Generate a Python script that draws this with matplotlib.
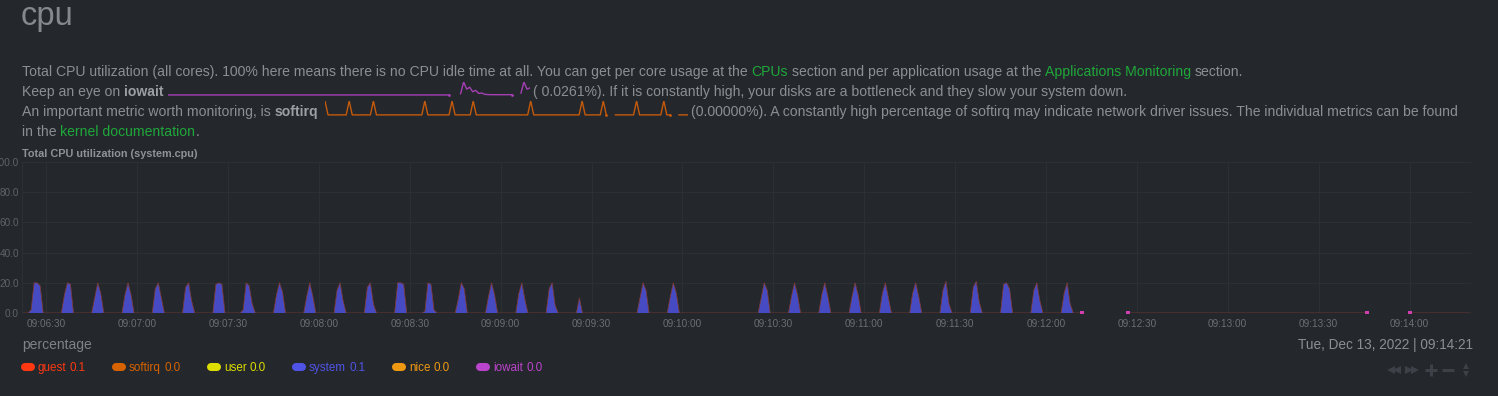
import numpy as np
import matplotlib
matplotlib.use("Agg")
import matplotlib.pyplot as plt

W, H = 1498, 396
BG = "#24272c"
TXT = "#8b8e92"
BOLD_TXT = "#9c9fa3"
GREEN = "#1fa83a"
GRID = "#2c3035"

plt.rcParams['font.family'] = ['Liberation Sans', 'DejaVu Sans']

# time axis in seconds after 09:06:00
tick_secs = [30, 60, 90, 120, 150, 180, 210, 240, 270, 300, 330, 360, 390, 420, 450, 480]
tick_labels = ["09:06:30", "09:07:00", "09:07:30", "09:08:00", "09:08:30", "09:09:00",
               "09:09:30", "09:10:00", "09:10:30", "09:11:00", "09:11:30", "09:12:00",
               "09:12:30", "09:13:00", "09:13:30", "09:14:00"]
y_ticks = [0, 20, 40, 60, 80, 100]
y_labels = ["0.0", "20.0", "40.0", "60.0", "80.0", "100.0"]
t_first, t_last = 22, 500
segments = [(22, 372), (387, 466), (480, 500)]

# system % spikes (centre second, values at centre-2 .. centre+2)
spike_secs = [27, 37, 47, 57, 67, 77, 87, 97, 107, 117, 127, 137, 147, 157, 167, 177,
              187, 197, 206, 227, 237, 267, 277, 287, 297, 307, 317, 327, 337, 347, 357, 367]
spike_shapes = [
    [2, 20, 20, 18, 0], [0, 12, 20, 19, 0], [0, 10, 20, 13, 0], [0, 12, 20, 12, 0],
    [0, 16, 20, 10, 0], [0, 17, 20, 8, 0], [0, 19, 20, 19, 0], [2, 20, 18, 6, 0],
    [0, 12, 20, 14, 0], [0, 11, 20, 11, 0], [0, 15, 20, 8, 0], [0, 17, 20, 6, 0],
    [0, 20, 20, 19, 0], [1, 20, 19, 2, 0], [0, 9, 20, 16, 0], [0, 11, 20, 12, 0],
    [0, 13, 20, 9, 0], [0, 16, 20, 5, 0], [0, 0, 10, 0, 0], [0, 10, 20, 15, 0],
    [0, 11, 20, 13, 0], [0, 10, 20, 15, 0], [0, 11, 20, 12, 0], [0, 12, 20, 11, 0],
    [0, 11, 20, 12, 0], [0, 13, 20, 10, 0], [0, 13, 20, 11, 0], [0, 15, 21, 6, 0],
    [0, 17, 21, 7, 0], [0, 19, 20, 16, 0], [0, 15, 20, 8, 0], [0, 13, 20, 6, 0],
]

# inline sparklines
nan = float("nan")
iowait_spark = ([0.0] * 94 + [nan] * 3 +
                [0.1, 1.0, 0.45, 0.6, 0.25, 0.35, 0.12, 0.15, 0.05, 0.03,
                 0.02, 0.02, 0.02, 0.02, 0.02, 0.02, 0.02, 0.02] +
                [nan] * 2 + [0.15, 1.0, 0.45, 0.55])
softirq_spark_n = 121
softirq_spark_peaks = [0, 8, 16, 33, 42, 49, 68, 85, 92, 103, 112]
softirq_spark_gaps = [94, 95, 115, 116]

legend_names = ["guest", "softirq", "user", "system", "nice", "iowait"]
legend_values = ["0.1", "0.0", "0.0", "0.1", "0.0", "0.0"]
legend_colors = ["#FE3912", "#D66300", "#DDDD00", "#5054e6", "#EE9911", "#BB44CC"]

fig = plt.figure(figsize=(W / 100, H / 100), dpi=100, facecolor=BG)
r = fig.canvas.get_renderer()

def px_axes(x0, y0, x1, y1):
    return fig.add_axes([x0 / W, 1 - y1 / H, (x1 - x0) / W, (y1 - y0) / H])

ov = fig.add_axes([0, 0, 1, 1])
ov.set_xlim(0, W)
ov.set_ylim(H, 0)
ov.axis("off")

# main chart
secs = np.arange(t_first, t_last + 1)
system = np.zeros(len(secs))
for c, shape in zip(spike_secs, spike_shapes):
    for j, v in enumerate(shape):
        system[c - 2 + j - t_first] = v
inside = np.zeros(len(secs), dtype=bool)
for a, b in segments:
    inside |= (secs >= a) & (secs <= b)
system[~inside] = np.nan

ax = px_axes(22, 162, 1471, 313)
ax.set_facecolor(BG)
ax.fill_between(secs, 0, system, color="#5054e6", alpha=0.82, lw=0)
ax.plot(secs, system, color="#7e3b36", lw=0.55)
ends = [segments[0][1], segments[1][0], segments[1][1], segments[2][0]]
ax.plot(ends, [0.3] * len(ends), "s", color="#d03fb0", ms=2.2, mew=0)
ax.set_xlim(t_first, 500.3)
ax.set_ylim(0, 100)
ax.set_xticks(tick_secs, tick_labels)
ax.set_yticks(y_ticks, y_labels)
ax.grid(color=GRID, lw=0.8)
ax.set_axisbelow(True)
ax.tick_params(length=0, labelsize=7.2, pad=4)
ax.tick_params(axis="x", colors="#6b6e72")
ax.tick_params(axis="y", colors="#5f6368", pad=2.2)
for side in ["top", "right", "bottom"]:
    ax.spines[side].set_visible(False)
ax.spines["left"].set_color(GRID)

# text runs
def text_w(s, size, weight="normal"):
    t = ov.text(0, 0, s, fontsize=size, fontweight=weight)
    w = t.get_window_extent(r).width
    t.remove()
    return w

FS = 10.1
space_w = text_w("a a", FS) - text_w("aa", FS)

def run(x, y, pieces, size=FS):
    sw = space_w * size / FS
    for s, color, weight in pieces:
        lead = len(s) - len(s.lstrip(" "))
        trail = len(s) - len(s.rstrip(" "))
        x += lead * sw
        t = ov.text(x, y, s.strip(" "), color=color, fontsize=size,
                    fontweight=weight, va="baseline", ha="left")
        x += t.get_window_extent(r).width + trail * sw
    return x

ov.text(21, 25, "cpu", fontsize=23.5, color="#85888c", va="baseline")

run(22, 76, [("Total CPU utilization (all cores). 100% here means there is no CPU idle time at all. "
              "You can get per core usage at the ", TXT, "normal"),
             ("CPUs", GREEN, "normal"),
             (" section and per application usage at the ", TXT, "normal"),
             ("Applications Monitoring", GREEN, "normal"),
             (" section.", TXT, "normal")])
run(22, 96, [("Keep an eye on ", TXT, "normal"), ("iowait", BOLD_TXT, "bold")])
run(533, 96, [("( 0.0261%). If it is constantly high, your disks are a bottleneck and they slow your system down.",
               TXT, "normal")])
run(22, 116, [("An important metric worth monitoring, is ", TXT, "normal"), ("softirq", BOLD_TXT, "bold")])
run(691, 116, [("(0.00000%). A constantly high percentage of softirq may indicate network driver issues. "
                "The individual metrics can be found", TXT, "normal")])
run(22, 136, [("in the ", TXT, "normal"), ("kernel documentation", GREEN, "normal"), (".", TXT, "normal")])

ov.text(22, 157, "Total CPU utilization (system.cpu)", fontsize=7.8, fontweight="bold",
        color="#8f9296", va="baseline")

# sparklines
def sparkline(box, values, color, dots):
    sa = px_axes(*box)
    sa.axis("off")
    idx = np.arange(len(values))
    sa.plot(idx, values, color=color, lw=1.0)
    sa.plot(dots, [values[d] for d in dots], "o", color=color, ms=2, mew=0)
    sa.set_xlim(0, len(values) - 1)
    sa.set_ylim(-0.08, 1.0)

sparkline((168, 82, 530, 96), iowait_spark, "#a53fb5", [93, 114])
softirq_spark = np.zeros(softirq_spark_n)
softirq_spark[softirq_spark_peaks] = 1.0
softirq_spark[softirq_spark_gaps] = np.nan
sparkline((325, 101, 688, 116), softirq_spark, "#c45a0c", [93, 114])

# bottom labels
ov.text(22, 349, "percentage", fontsize=10, color="#7f8286", va="baseline")
ov.text(1473, 349, "Tue, Dec 13, 2022 | 09:14:21", fontsize=9.8, color="#8b8e92",
        va="baseline", ha="right")

pill_x = [21, 112, 207, 292, 392, 476]
for x, name, val, col in zip(pill_x, legend_names, legend_values, legend_colors):
    ov.plot([x + 4, x + 10], [367, 367], color=col, lw=5.8, solid_capstyle="round")
    run(x + 17, 371, [(name + " ", col, "normal"), (val, col, "normal")], size=8.4)

ICON = "#3d4147"
ov.plot([1391, 1397], [370, 370], "<", color=ICON, ms=6, mew=0)
ov.plot([1409, 1415], [370, 370], ">", color=ICON, ms=6, mew=0)
ov.plot([1431], [370], "+", color=ICON, ms=9, mew=2.2)
ov.plot([1448], [370], "_", color=ICON, ms=9, mew=2.2)
ov.plot([1466], [366], "^", color=ICON, ms=5, mew=0)
ov.plot([1466], [374], "v", color=ICON, ms=5, mew=0)

fig.savefig("out.png", dpi=100, facecolor=BG)
